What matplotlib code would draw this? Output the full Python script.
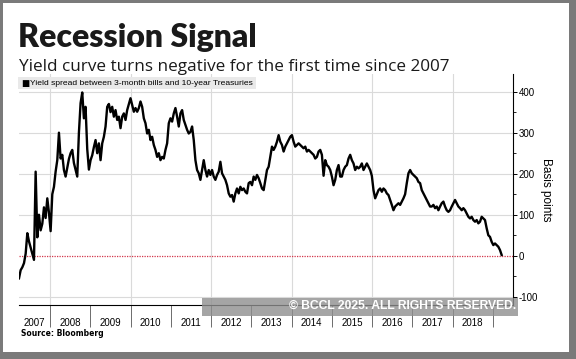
import matplotlib
matplotlib.use('Agg')
import matplotlib.pyplot as plt
import matplotlib.patches as mpatches
import numpy as np
import pandas as pd

# ---- data: 3m bill / 10y Treasury spread (bp), roughly semi-monthly
start_date = '2007-03-26'
end_date = '2019-03-22'
spread = [
    # 2007
    -55, -35, -28, -18, 5, 55, 35, 20, 5, -10, 205, 45, 100, 62, 78, 118, 92, 140, 105,
    # 2008
    60, 150, 168, 205, 233, 300, 237, 246, 209, 193, 215, 236, 250, 258, 226, 209,
    193, 300, 372, 398, 335, 363, 260, 210,
    # 2009
    233, 245, 265, 282, 250, 274, 233, 274, 290, 315, 363, 370, 350, 363, 339, 355,
    331, 339, 311, 339, 347, 331, 355, 370,
    # 2010
    384, 368, 351, 360, 351, 360, 376, 363, 335, 323, 298, 307, 282, 290, 270, 258,
    241, 250, 233, 241, 237, 258, 274, 323,
    # 2011
    335, 327, 347, 360, 339, 315, 347, 355, 331, 319, 307, 298, 302, 315, 282, 233,
    209, 201, 185, 209, 233, 209, 193, 209,
    # 2012
    197, 209, 193, 185, 197, 205, 229, 201, 193, 185, 172, 152, 144, 148, 132, 152,
    164, 152, 168, 160, 164, 156, 152, 177,
    # 2013
    180, 172, 193, 185, 197, 189, 177, 164, 160, 185, 209, 217, 241, 266, 258, 266,
    278, 294, 278, 270, 254, 266, 274, 282,
    # 2014
    290, 294, 278, 266, 270, 274, 270, 266, 262, 266, 254, 258, 254, 250, 246, 237,
    241, 254, 258, 246, 195, 233, 221, 217,
    # 2015
    209, 193, 172, 185, 209, 221, 193, 193, 209, 217, 221, 237, 246, 233, 225, 209,
    217, 213, 217, 225, 209, 217, 225, 217,
    # 2016
    209, 195, 160, 140, 150, 160, 164, 156, 164, 160, 152, 148, 136, 124, 111, 120,
    124, 128, 124, 132, 140, 150, 177, 201,
    # 2017
    209, 201, 197, 193, 189, 180, 177, 160, 152, 144, 136, 128, 120, 120, 124, 116,
    120, 111, 120, 128, 132, 120, 111, 107,
    # 2018
    111, 120, 128, 136, 128, 120, 116, 111, 116, 111, 103, 95, 91, 95, 87, 83,
    87, 79, 83, 95, 91, 87, 67, 50,
    # 2019
    46, 34, 26, 30, 26, 22, 14, 2,
]
year_labels = ['2007', '2008', '2009', '2010', '2011', '2012',
               '2013', '2014', '2015', '2016', '2017', '2018']
y_ticks = [-100, 0, 100, 200, 300, 400]

plt.rcParams['font.family'] = 'Liberation Sans'
plt.rcParams['axes.unicode_minus'] = False

W, H = 576, 359
fig = plt.figure(figsize=(W / 100, H / 100), dpi=100)
fig.patch.set_facecolor('#7a7a7a')


def fx(x):
    return x / W


def fy(y):
    return 1 - y / H


# white card inside grey frame
fig.patches.append(mpatches.Rectangle((fx(3), fy(352)), fx(566), 349 / H,
                                      transform=fig.transFigure, facecolor='white',
                                      edgecolor='none', zorder=-5))

ax = fig.add_axes([fx(19), fy(305), fx(513 - 19), (305 - 74) / H])
ax.set_zorder(1)
ax.set_facecolor('white')

dates = pd.date_range(start_date, end_date, periods=len(spread))
xmin = pd.Timestamp(start_date)
xmax = pd.Timestamp('2019-07-03')

# grid
for v in y_ticks:
    if v != 0:
        ax.axhline(v, color='#dadada', lw=0.8, zorder=1)
for yr in range(2008, 2019, 2):
    ax.axvline(pd.Timestamp(f'{yr}-01-01'), color='#dadada', lw=0.8, zorder=1)
ax.axhline(0, color='#d2354a', lw=0.9, ls=(0, (1, 1)), zorder=2)

ax.plot(dates, spread, color='black', lw=1.7, zorder=3)

ax.set_xlim(xmin, xmax)
ax.set_ylim(-120, 443)

for s in ['top', 'left']:
    ax.spines[s].set_visible(False)
for s in ['right', 'bottom']:
    ax.spines[s].set_color('black')
    ax.spines[s].set_linewidth(0.8)

# y axis on the right
ax.yaxis.tick_right()
ax.yaxis.set_label_position('right')
ax.set_yticks(y_ticks)
ax.set_yticks(np.arange(-100, 401, 50), minor=True)
ax.tick_params(axis='y', which='major', length=3, width=0.7, pad=1,
               labelsize=7, colors='black')
ax.tick_params(axis='y', which='minor', length=2, width=0.6)
ax.set_ylabel('Basis points', rotation=-90, fontsize=8.5, labelpad=10)

# x axis: year separators + centred year labels
bounds = [pd.Timestamp(f'{yr}-01-01') for yr in range(2008, 2020)]
ax.set_xticks(bounds)
ax.set_xticklabels([])
ax.tick_params(axis='x', which='major', length=16, width=0.6, color='#555555')
edges = [xmin] + bounds
centers = [edges[i] + (edges[i + 1] - edges[i]) / 2 for i in range(len(year_labels))]
ax.set_xticks(centers, minor=True)
ax.set_xticklabels(year_labels, minor=True)
ax.tick_params(axis='x', which='minor', length=0, pad=9, labelsize=7)

# legend strip (sits over the top of the plot area)
fig.patches.append(mpatches.Rectangle((fx(18), fy(89)), fx(256 - 18), 12 / H,
                                      transform=fig.transFigure, facecolor='#e9e9e9',
                                      edgecolor='none', zorder=2))
fig.text(fx(25), fy(83.5), '\u25a0', fontsize=6.2, va='center', ha='center',
         family='DejaVu Sans', zorder=3)
fig.text(fx(30), fy(83.5), 'Yield spread between 3-month bills and 10-year Treasuries',
         fontsize=6.1, va='center', ha='left', zorder=3)

# titles
fig.text(fx(18), fy(47), 'Recession Signal', fontsize=23, fontweight='heavy',
         family=['Lato', 'Liberation Sans'], va='baseline', ha='left',
         color='#1a1a1a')
fig.text(fx(19), fy(71), 'Yield curve turns negative for the first time since 2007',
         fontsize=12.35, family='Open Sans', va='baseline', ha='left', color='#1a1a1a')
fig.text(fx(21), fy(333), 'Source: Bloomberg', fontsize=5.5, fontweight='bold',
         family='DejaVu Sans', va='center', ha='left')

# watermark band
fig.patches.append(mpatches.Rectangle((fx(202), fy(316)), fx(518 - 202), 18 / H,
                                      transform=fig.transFigure, facecolor='#8f8f8f',
                                      alpha=0.8, edgecolor='none', zorder=5))
fig.text(fx(516), fy(306), '\u00a9 BCCL 2025. ALL RIGHTS RESERVED.', fontsize=8.7,
         fontweight='bold', color='white', va='center', ha='right', zorder=6)

fig.savefig('out.png', dpi=100, facecolor=fig.get_facecolor())
